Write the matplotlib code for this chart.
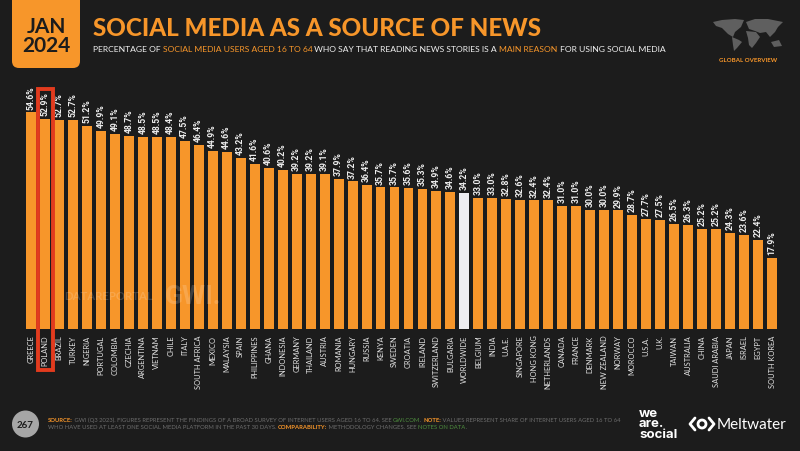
import matplotlib
matplotlib.use('Agg')
import matplotlib.pyplot as plt
from matplotlib.patches import FancyBboxPatch, Rectangle, Polygon, Circle

countries = ['GREECE', 'POLAND', 'BRAZIL', 'TURKEY', 'NIGERIA', 'PORTUGAL', 'COLOMBIA', 'CZECHIA', 'ARGENTINA',
             'VIETNAM', 'CHILE', 'ITALY', 'SOUTH AFRICA', 'MEXICO', 'MALAYSIA', 'SPAIN', 'PHILIPPINES', 'GHANA',
             'INDONESIA', 'GERMANY', 'THAILAND', 'AUSTRIA', 'ROMANIA', 'HUNGARY', 'RUSSIA', 'KENYA', 'SWEDEN',
             'CROATIA', 'IRELAND', 'SWITZERLAND', 'BULGARIA', 'WORLDWIDE', 'BELGIUM', 'INDIA', 'U.A.E.', 'SINGAPORE',
             'HONG KONG', 'NETHERLANDS', 'CANADA', 'FRANCE', 'DENMARK', 'NEW ZEALAND', 'NORWAY', 'MOROCCO', 'U.S.A.',
             'U.K.', 'TAIWAN', 'AUSTRALIA', 'CHINA', 'SAUDI ARABIA', 'JAPAN', 'ISRAEL', 'EGYPT', 'SOUTH KOREA']
values = [54.6, 52.9, 52.7, 52.7, 51.2, 49.9, 49.1, 48.7, 48.5,
          48.5, 48.4, 47.5, 46.4, 44.9, 44.6, 43.2, 41.6, 40.6,
          40.2, 39.2, 39.2, 39.1, 37.9, 37.2, 36.4, 35.7, 35.7,
          35.6, 35.3, 34.9, 34.6, 34.2, 33.0, 33.0, 32.8, 32.6,
          32.4, 32.4, 31.0, 31.0, 30.0, 30.0, 29.9, 28.7, 27.7,
          27.5, 26.5, 26.3, 25.2, 25.2, 24.3, 23.6, 22.4, 17.9]

BG = '#1c1c1c'
ORANGE = '#f7962a'
WHITE = '#f0f0f0'
GREY = '#6e6e6e'
GREEN = '#4f8f3f'
RED = '#e23b1e'
FONT = 'Lato'
NARROW = ['Liberation Sans Narrow', 'Roboto']

W, H = 800, 452
fig = plt.figure(figsize=(W / 100, H / 100), dpi=100, facecolor=BG)

# bars
ax = fig.add_axes([24 / W, (H - 330) / H, 755 / W, 238 / H], facecolor='none')
colors = ['#eeeef2' if c == 'WORLDWIDE' else ORANGE for c in countries]
ax.bar(range(len(countries)), values, width=0.71, color=colors, linewidth=0)
ax.set_xlim(-0.5, len(countries) - 0.5)
ax.set_ylim(0, 60)
ax.set_yticks([])
ax.set_xticks(range(len(countries)))
ax.set_xticklabels(countries, rotation=90, fontsize=5.4, color='#e2e2e2', family=FONT)
ax.tick_params(axis='x', length=0, pad=4)
for s in ax.spines.values():
    s.set_visible(False)
for i, v in enumerate(values):
    ax.annotate(f'{v:.1f}%', (i, v), xytext=(0, 2.8), textcoords='offset points', rotation=90,
                ha='center', va='bottom', fontsize=6.2, color='#eeeeee', family=NARROW, fontweight='bold')

# pixel layer for everything around the chart
ov = fig.add_axes([0, 0, 1, 1], facecolor='none')
ov.set_xlim(0, W)
ov.set_ylim(H, 0)
ov.axis('off')


def runs(x, y, parts, size, weight='normal'):
    # coloured pieces of text one after the other
    r = fig.canvas.get_renderer()
    for txt, col, w in [(p[0], p[1], p[2] if len(p) > 2 else weight) for p in parts]:
        t = ov.text(x, y, txt, color=col, fontsize=size, fontweight=w, family=FONT, va='center', ha='left')
        x += t.get_window_extent(r).width + 0.0


ov.add_patch(FancyBboxPatch((12, -20), 68, 89, boxstyle='round,pad=0,rounding_size=7', fc=ORANGE, ec='none'))
ov.text(46, 27, 'JAN', color=BG, fontsize=15, fontweight='bold', family=FONT, ha='center', va='center')
ov.text(46, 46, '2024', color=BG, fontsize=15, fontweight='bold', family=FONT, ha='center', va='center')
ov.text(93, 28, 'SOCIAL MEDIA AS A SOURCE OF NEWS', color=ORANGE, fontsize=17.4, fontweight='black',
        family=FONT, ha='left', va='center')
runs(93, 49.5, [('PERCENTAGE OF ', WHITE), ('SOCIAL MEDIA USERS AGED 16 TO 64', ORANGE),
                (' WHO SAY THAT READING NEWS STORIES IS A ', WHITE), ('MAIN REASON', ORANGE),
                (' FOR USING SOCIAL MEDIA', WHITE)], 6.08)

# rough world map
map_parts = [
    [(713, 23), (722, 21), (735, 20), (744, 21), (741, 28), (735, 33), (733, 38), (728, 35), (722, 29), (716, 27)],
    [(732, 38), (739, 41), (742, 43), (737, 49), (734, 52), (733, 46)],
    [(746, 23), (755, 20), (768, 20), (783, 23), (778, 28), (775, 33), (770, 38), (766, 33), (760, 34), (755, 32), (749, 30)],
    [(746, 32), (756, 33), (760, 38), (756, 44), (752, 49), (749, 46), (748, 39)],
    [(771, 43), (779, 41), (782, 47), (774, 48)],
]
for p in map_parts:
    ov.add_patch(Polygon(p, closed=True, fc='#5f5f5f', ec='none'))
ov.text(748, 60, 'GLOBAL OVERVIEW', color=ORANGE, fontsize=4.4, fontweight='bold', family=FONT, ha='center', va='center')

# highlight around Poland
ov.add_patch(Rectangle((38, 90), 14.5, 281, fc='none', ec=RED, lw=2.8))

# watermarks on the bars
ov.text(64, 297, 'DATAREPORTAL', color='white', alpha=0.16, fontsize=8.2, fontweight='bold', family=FONT, va='center')
ov.text(165, 297, 'GWI.', color='white', alpha=0.16, fontsize=19, fontweight='bold', family=NARROW, va='center')

# footer
ov.add_patch(Circle((25.5, 425), 13.5, fc='#a6a6a6', ec='none'))
ov.text(25.5, 425.5, '267', color=BG, fontsize=7, fontweight='bold', family=FONT, ha='center', va='center')
runs(48, 420.5, [('SOURCE:', ORANGE, 'bold'), (' GWI (Q3 2023). FIGURES REPRESENT THE FINDINGS OF A BROAD SURVEY OF INTERNET USERS AGED 16 TO 64. SEE ', GREY),
                 ('GWI.COM', GREEN), ('. ', GREY), ('NOTE:', ORANGE, 'bold'),
                 (' VALUES REPRESENT SHARE OF INTERNET USERS AGED 16 TO 64', GREY)], 4.24)
runs(48, 428, [('WHO HAVE USED AT LEAST ONE SOCIAL MEDIA PLATFORM IN THE PAST 30 DAYS. ', GREY),
               ('COMPARABILITY:', ORANGE, 'bold'), (' METHODOLOGY CHANGES. SEE ', GREY), ('NOTES ON DATA', GREEN), ('.', GREY)], 4.24)

# logos
ov.text(639, 424.5, 'we\nare.\nsocial', color='white', fontsize=9.5, fontweight='bold', family='Inter',
        va='center', ha='left', linespacing=0.85)
ov.plot([695, 690, 695], [419, 425, 431], color='white', lw=2, solid_capstyle='round')
ov.plot([709, 714, 709], [419, 425, 431], color='white', lw=2, solid_capstyle='round')
ov.add_patch(Circle((702, 425), 4, fc='none', ec='white', lw=2))
ov.text(717, 425, 'Meltwater', color='white', fontsize=11, family=FONT, va='center', ha='left')

fig.savefig('out.png', dpi=100, facecolor=BG)
